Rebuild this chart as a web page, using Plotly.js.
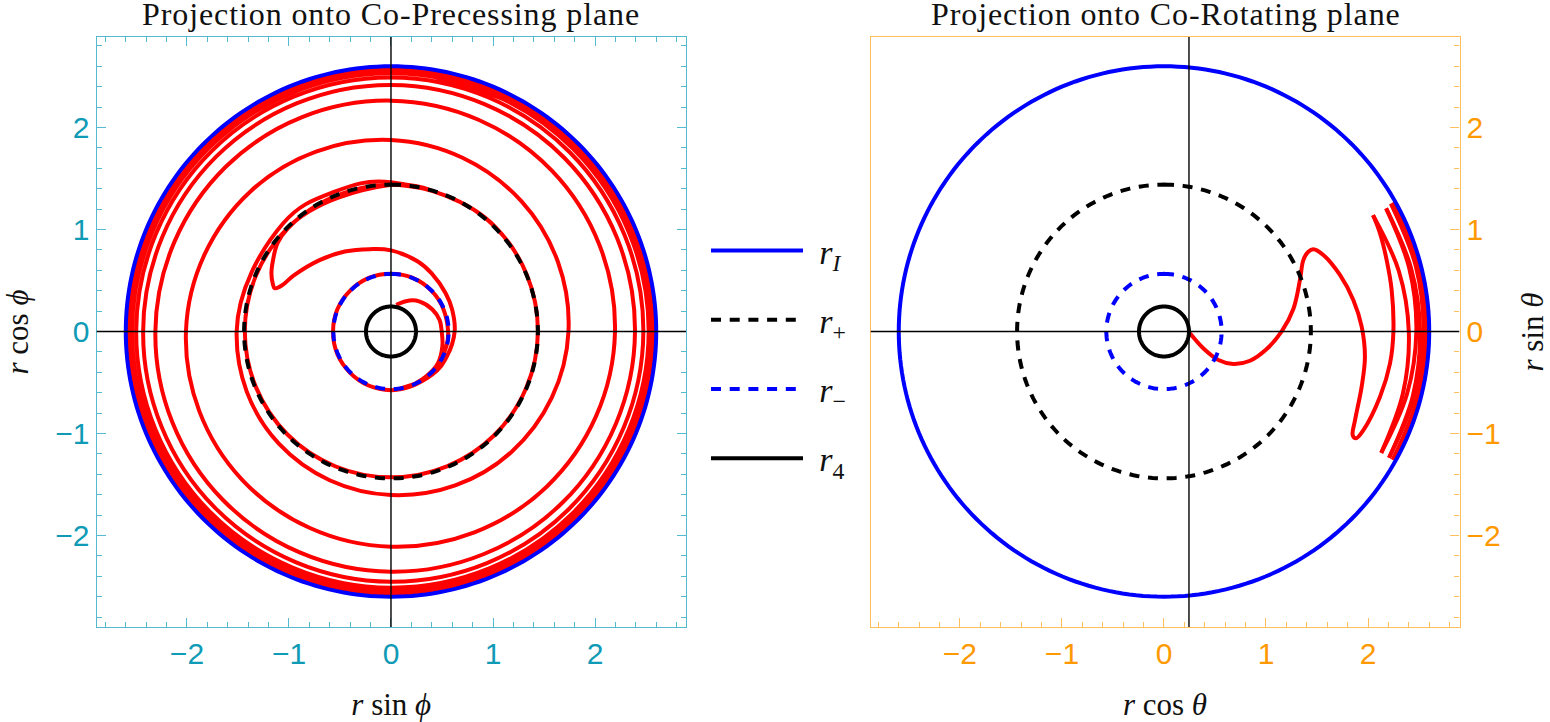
<!DOCTYPE html>
<html>
<head>
<meta charset="utf-8">
<script src="https://cdn.plot.ly/plotly-3.0.1.min.js"></script>
<style>html,body{margin:0;padding:0;background:#fff}#chart{width:1550px;height:722px}
.annotation-text{letter-spacing:0.9px}</style>
</head>
<body>
<div id="chart"></div>
<script>
// tick labels and titles
const tickVals = [-2, -1, 0, 1, 2];
const tickText = ['\u22122', '\u22121', '0', '1', '2'];
const leftTitle = 'Projection onto Co-Precessing plane';
const rightTitle = 'Projection onto Co-Rotating plane';

// radii of the four reference circles
const radiusI = 2.6, radiusPlus = 1.44, radiusMinus = 0.565, radius4 = 0.245;

// left panel orbit: angle phi (degrees, cumulative clockwise from the top) and radius
const leftPhi = [0,45,90,135,180,225,270,315,360,405,450,495,540,585,630,675,720,765,810,855,900,945,990,1035,1080,1125,1170,1215,1260,1305,1350,1395,1440,1485,1530,1575,1620,1665,1710,1755,1800,1845,1890,1935,1980,2025,2070,2115,2160,2205,2250,2295,2340,2385,2430,2475,2520,2565,2610,2655,2700,2745,2790,2835,2880,2925,2970,3015,3060,3105,3150,3195,3217.5,3240,3285,3330,3375,3420,3465,3510,3555,3600,3615,3600,3585,3570,3555,3548,3541.3,3536,3532,3530.4,3532,3533.4,3540,3555,3570,3585.5,3600,3621,3635,3655,3670,3690,3714,3736,3780,3825,3870,3915,3960,4005,4050,4080,4110,4130,4115,4095,4084,4066,4050,4037,4022,4004,3991,3971];
const leftR = [2.592,2.591,2.59,2.589,2.588,2.587,2.586,2.584,2.583,2.582,2.58,2.579,2.578,2.576,2.575,2.573,2.572,2.571,2.57,2.568,2.565,2.563,2.56,2.558,2.556,2.554,2.552,2.548,2.545,2.541,2.538,2.535,2.532,2.529,2.526,2.519,2.512,2.505,2.498,2.494,2.49,2.482,2.474,2.464,2.453,2.442,2.43,2.424,2.417,2.405,2.392,2.375,2.355,2.333,2.31,2.287,2.263,2.23,2.196,2.155,2.11,2.06,2.01,1.945,1.877,1.807,1.74,1.67,1.603,1.555,1.513,1.497,1.478,1.462,1.448,1.44,1.435,1.43,1.432,1.433,1.434,1.438,1.44,1.438,1.435,1.435,1.43,1.41,1.353,1.304,1.25,1.216,1.175,1.154,1.1,0.99,0.905,0.834,0.795,0.735,0.695,0.654,0.637,0.624,0.6,0.585,0.575,0.57,0.568,0.566,0.565,0.563,0.56,0.56,0.562,0.564,0.562,0.56,0.556,0.524,0.497,0.49,0.46,0.407,0.355,0.267];

// right panel orbit, inner part: read as r cos(theta), r sin(theta)
const rightX = [0.255,0.385,0.533,0.68,0.843,1.007,1.154,1.268,1.333,1.366,1.415,1.464,1.562,1.725,1.856,1.938,1.97,1.938,1.873,1.85,1.882,1.955,2.118,2.216,2.249,2.232,2.183,2.118,2.05];
const rightY = [-0.018,-0.165,-0.28,-0.319,-0.287,-0.172,0,0.22,0.505,0.7,0.782,0.806,0.75,0.554,0.309,0.047,-0.247,-0.541,-0.868,-1.015,-1.047,-0.966,-0.639,-0.312,0,0.407,0.7,0.962,1.14];

// right panel orbit, outer arcs: theta (degrees) and radius, arcs split by null
const arcTheta = [29.1,14.5,0,-14.5,-29.2,null,-29.2,-14.5,0,14.5,29,null,29,14.5,0,-14.5,-29.3,null,-29.3,-14.5,0,14.5,29.4,null,29.4,14.5,0,-14.5,-29.3,null,-29.3,-14.5,0,14.5,29.4];
const arcR = [2.345,2.377,2.4,2.42,2.44,null,2.44,2.46,2.474,2.483,2.49,null,2.49,2.5,2.51,2.52,2.53,null,2.53,2.537,2.544,2.55,2.555,null,2.555,2.56,2.565,2.57,2.573,null,2.573,2.577,2.58,2.584,2.587];

const rad = d => d * Math.PI / 180;
const leftX = leftPhi.map((p, i) => leftR[i] * Math.sin(rad(p)));
const leftY = leftPhi.map((p, i) => leftR[i] * Math.cos(rad(p)));
const arcX = arcTheta.map((t, i) => t === null ? null : arcR[i] * Math.cos(rad(t)));
const arcY = arcTheta.map((t, i) => t === null ? null : arcR[i] * Math.sin(rad(t)));

const sweep = Array.from({length: 241}, (_, i) => i * 1.5);
const circleX = r => sweep.map(a => r * Math.sin(rad(a)));
const circleY = r => sweep.map(a => r * Math.cos(rad(a)));

const LW = 4, DASH = '10px,8.7px';
const W = 1550, H = 722;
const redLeft = {color: '#ff0000', width: LW, shape: 'spline', smoothing: 1.12, simplify: false};
const red = {color: '#ff0000', width: LW, shape: 'spline', smoothing: 1, simplify: false};

function circles(xa, ya, legend) {
  const defs = [
    [radiusI, '&nbsp;\u200a<i>r</i><sub><i>I</i></sub>', '#0000ff', 'solid'],
    [radiusPlus, '&nbsp;\u200a<i>r</i><sub>+</sub>', '#000000', DASH],
    [radiusMinus, '&nbsp;\u200a<i>r</i><sub>\u2212</sub>', '#0000ff', DASH],
    [radius4, '&nbsp;\u200a<i>r</i><sub>4</sub>', '#000000', 'solid']
  ];
  return defs.map((d, i) => ({
    type: 'scatter', mode: 'lines', x: circleX(d[0]), y: circleY(d[0]),
    xaxis: xa, yaxis: ya, name: d[1], legendgroup: 'g' + i, showlegend: legend,
    hoverinfo: 'skip', line: {color: d[2], width: LW, dash: d[3], simplify: false}
  }));
}

const data = [
  {type:'scatter', mode:'lines', x:leftX, y:leftY, xaxis:'x', yaxis:'y', showlegend:false, name:'orbit', line:redLeft},
  {type:'scatter', mode:'lines', x:rightX, y:rightY, xaxis:'x2', yaxis:'y2', showlegend:false, name:'orbit inner', line:red},
  {type:'scatter', mode:'lines', x:arcX, y:arcY, xaxis:'x2', yaxis:'y2', showlegend:false, name:'orbit arcs', connectgaps:false, line:red},
  ...circles('x', 'y', true),
  ...circles('x2', 'y2', false)
];

const TEAL = '#0f9ab5', TEALF = '#55b9cf', ORANGE = '#ff9900', ORANGEF = '#ffbe5c';
const TICKF = {family: '"Liberation Sans", Arial, sans-serif', size: 30};
const TITLEF = {family: '"Liberation Serif", serif', size: 32, color: '#111'};
const AXF = {family: '"Liberation Serif", serif', size: 31, color: '#111'};

function axis(range, domain, col, fcol, mirror, title, standoff, extra) {
  return Object.assign({
    range, domain, showgrid: false, zeroline: false, showline: true, linecolor: fcol, linewidth: 1.2,
    mirror, tickmode: 'array', tickvals: tickVals, ticktext: tickText,
    ticks: 'inside', ticklen: 9, tickwidth: 1, tickcolor: fcol,
    tickfont: Object.assign({color: col}, TICKF),
    minor: {dtick: 0.2, tick0: 0, ticks: 'inside', ticklen: 5, tickwidth: 1, tickcolor: fcol, showgrid: false},
    title: {text: title, font: AXF, standoff}, fixedrange: true
  }, extra || {});
}

const yDom = [1 - 627 / H, 1 - 37 / H];
const axisLine = (xref, yref, x0, y0, x1, y1) => ({type:'line', xref, yref, x0, y0, x1, y1, layer:'above', line:{color:'#000', width:1.4}});

const layout = {
  width: W, height: H, autosize: false, paper_bgcolor: '#fff', plot_bgcolor: '#fff',
  margin: {l: 0, r: 0, t: 0, b: 0},
  showlegend: true,
  legend: {
    x: 706 / W, y: 1 - 222 / H, xanchor: 'left', yanchor: 'top', bgcolor: 'rgba(0,0,0,0)', borderwidth: 0,
    itemwidth: 92, tracegroupgap: 22, traceorder: 'grouped', itemclick: false, itemdoubleclick: false,
    font: {family: '"Liberation Serif", serif', size: 34, color: '#111'}
  },
  xaxis: axis([-2.887, 2.892], [96.5 / W, 686 / W], TEAL, TEALF, 'ticks', '<i>r</i> sin <i>\u03d5</i>', 26, {anchor: 'y'}),
  yaxis: axis([-2.897, 2.887], yDom, TEAL, TEALF, 'ticks', '<i>r</i> cos <i>\u03d5</i>', 25, {anchor: 'x'}),
  xaxis2: axis([-2.877, 2.897], [870.5 / W, 1459.5 / W], ORANGE, ORANGEF, true, '<i>r</i> cos <i>\u03b8</i>', 26, {anchor: 'y2'}),
  yaxis2: axis([-2.897, 2.887], yDom, ORANGE, ORANGEF, true, '<i>r</i> sin <i>\u03b8</i>', 29, {anchor: 'x2', side: 'right'}),
  shapes: [
    axisLine('x', 'y', -2.887, 0, 2.892, 0),
    axisLine('x', 'y', 0, -2.897, 0, 2.887),
    axisLine('x2', 'y2', -2.877, 0, 2.897, 0),
    axisLine('x2', 'y2', 0.245, -2.897, 0.245, 2.887)
  ],
  annotations: [
    {text: leftTitle, xref: 'paper', yref: 'paper', x: 391 / W, y: 1 - 14 / H, xanchor: 'center', yanchor: 'middle', showarrow: false, font: TITLEF},
    {text: rightTitle, xref: 'paper', yref: 'paper', x: 1165.5 / W, y: 1 - 14 / H, xanchor: 'center', yanchor: 'middle', showarrow: false, font: TITLEF}
  ]
};

Plotly.newPlot('chart', data, layout, {displayModeBar: false, responsive: false});
</script>
</body>
</html>
